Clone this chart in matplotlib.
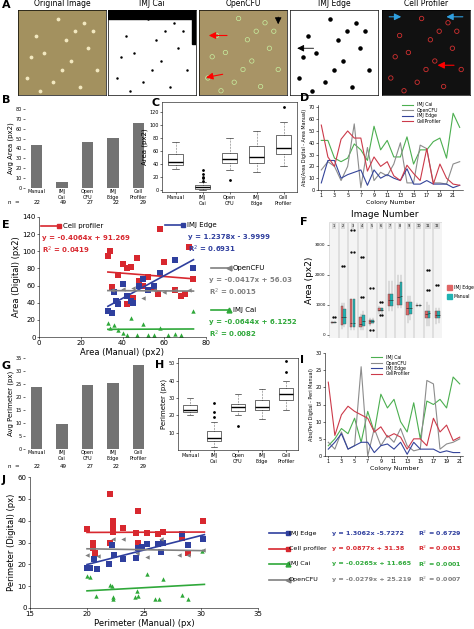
import numpy as np
import matplotlib
matplotlib.use("Agg")
import matplotlib.pyplot as plt

plt.rcParams['font.family'] = ['DejaVu Sans']

W, H = 474, 629

# ------------------ DATA ------------------
methods = ["Manual", "IMJ\nCai", "Open\nCFU", "IMJ\nEdge", "Cell\nProfiler"]
n_counts = [22, 49, 27, 22, 29]
avg_area = [44, 6, 47, 51, 66]
avg_perim = [24, 9.5, 24.5, 25.5, 32.5]

# boxplot stats: (med, q1, q3, lo, hi, fliers)
area_box = [(43, 38, 55, 33, 74, []),
            (4, 2, 8, 0, 12, [14, 18, 20, 24, 30]),
            (48, 41, 57, 30, 80, [16]),
            (50, 42, 68, 27, 90, []),
            (64, 55, 84, 37, 105, [128])]
perim_box = [(23, 22, 26, 20, 30, []),
             (7, 5, 11, 2, 16, [19, 22, 27]),
             (24.5, 22.5, 26.5, 20, 32, [14]),
             (25, 23, 29, 18, 35, []),
             (32, 29, 35.5, 23, 40, [45, 51])]

colony_d = np.arange(1, 23)
d_cai = [42, 42, 27, 24, 27, 39, 34, 25, 54, 34, 42, 28, 28, 45, 22, 34, 34, 41, 44, 27, 65, 53]
d_ocfu = [17, 24, 20, 8, 20, 56, 2, 36, 8, 15, 12, 22, 40, 6, 6, 38, 35, 6, 6, 5, 22, 24]
d_edge = [6, 25, 25, 10, 13, 15, 17, 4, 17, 10, 13, 10, 8, 18, 5, 5, 8, 5, 5, 5, 2, 4]
d_cell = [55, 28, 20, 43, 50, 44, 44, 16, 28, 20, 24, 12, 8, 21, 14, 8, 35, 5, 22, 10, 5, 4]

colony_i = np.arange(1, 22)
i_cai = [3, 5, 8, 6.5, 11, 4, 13, 7, 18, 14, 16.5, 10, 7, 15.5, 5, 16, 15, 16.5, 14, 23, 21]
i_ocfu = [4, 2, 7, 2, 3, 26, 0, 8, 3, 6, 4, 8, 3, 1.5, 2, 22, 21, 2, 3.5, 4, 5]
i_edge = [2, 4, 6.5, 2, 3, 4, 4, 1, 3, 3.5, 2, 4, 0.5, 4, 2, 2, 2, 1, 1.5, 1, 1]
i_cell = [21.5, 6, 12, 14.5, 13, 12, 11, 7, 8.5, 5.5, 6.5, 5.5, 2, 5, 5, 3, 11, 7, 9, 4.5, 5.5]

# E scatter
e_cell_x = [33, 35, 38, 40, 42, 44, 45, 47, 50, 52, 55, 57, 60, 65, 68, 72, 74, 34, 48, 58, 42, 70]
e_cell_y = [95, 58, 72, 85, 80, 82, 45, 92, 60, 70, 58, 50, 88, 55, 48, 105, 68, 100, 65, 126, 38, 50]
e_edge_x = [33, 35, 37, 40, 42, 45, 48, 50, 55, 58, 65, 74, 36, 44, 52, 38]
e_edge_y = [30, 28, 42, 62, 48, 40, 60, 68, 60, 75, 90, 80, 52, 42, 55, 38]
e_ocfu_x = [35, 40, 45, 50, 55, 60, 65, 72]
e_ocfu_y = [55, 56, 57, 45, 55, 53, 55, 55]
e_cai_x = [33, 34, 36, 38, 40, 42, 44, 47, 50, 52, 55, 58, 62, 65, 68, 74]
e_cai_y = [16, 10, 14, 8, 5, 2, 22, 2, 15, 2, 2, 10, 2, 4, 2, 30]

# J scatter
j_cell_x = [20, 20.5, 20.5, 22, 22, 22.3, 22.3, 22.3, 23.2, 24.5, 24.5, 25.3, 26.2, 26.7, 28.3, 28.9, 30.2, 20.7, 24.3]
j_cell_y = [36, 30, 27.5, 30, 52, 40, 37.5, 35, 36.5, 44.5, 30, 34.5, 34, 35, 32, 25, 40, 25, 34.5]
j_edge_x = [20, 20.3, 20.6, 20.9, 21.9, 22.2, 22.4, 23.2, 24.3, 24.5, 25.3, 26.2, 26.5, 26.7, 28.3, 28.9, 30.2, 24.8]
j_edge_y = [18.5, 18.5, 22.5, 18, 20, 29, 24.5, 22.5, 23, 27.5, 29.5, 29.5, 25.5, 30, 34, 29, 31.5, 28]
j_ocfu_x = [20, 21, 22.3, 23.2, 24.4, 25.3, 26.5, 28.1, 28.9, 30.2]
j_ocfu_y = [24.5, 24, 31.5, 31.5, 25, 23.5, 31.5, 24.5, 24.5, 26.5]
j_cai_x = [20, 20.3, 20.8, 22, 22.2, 22.3, 22.3, 24.2, 24.4, 24.5, 25.3, 26, 26.3, 26.7, 28.3, 28.9, 30.1]
j_cai_y = [14.5, 14, 5.5, 10.5, 10, 5, 4, 5, 8, 5.5, 15.5, 4, 4, 13.5, 6, 4, 26]

# F per-image boxes (IMJ Edge, Manual): med, q1, q3, lo, hi
f_images = list(range(1, 13))
f_edge = [(420, 390, 440, 380, 460), (600, 330, 950, 200, 1050), (400, 260, 1200, 150, 1200),
          (380, 280, 600, 150, 700), (450, 380, 500, 300, 550), (830, 800, 900, 700, 950),
          (1150, 950, 1350, 800, 1800), (1250, 1000, 1650, 900, 2000), (900, 650, 1100, 400, 1300),
          (980, 950, 1000, 930, 1050), (700, 550, 800, 300, 1100), (650, 550, 800, 350, 900)]
f_man = [(420, 400, 440, 390, 460), (600, 350, 850, 250, 1050), (400, 260, 1200, 150, 1200),
         (450, 300, 650, 150, 800), (450, 400, 500, 350, 550), (830, 790, 880, 700, 900),
         (1150, 950, 1350, 800, 1800), (1300, 1000, 1750, 900, 2000), (900, 700, 1100, 500, 1300),
         (980, 960, 1000, 940, 1020), (720, 550, 800, 300, 1000), (650, 550, 800, 400, 900)]
f_fliers = {1: [600], 2: [2300], 3: [2750, 3500], 4: [1250, 2600], 5: [150, 1550], 6: [1100, 650],
            11: [1500, 2150], 12: [1650]}

# A thumbnails: spot positions (fractions of tile)
spots_x = [0.2, 0.75, 0.65, 0.15, 0.5, 0.8, 0.4, 0.3, 0.9, 0.55, 0.1, 0.7, 0.45, 0.85, 0.25, 0.6]
spots_y = [0.7, 0.85, 0.75, 0.45, 0.3, 0.55, 0.15, 0.5, 0.3, 0.65, 0.2, 0.1, 0.9, 0.75, 0.05, 0.4]
# -------------------------------------------

fig = plt.figure(figsize=(W / 100, H / 100), dpi=100)


def ax_px(x0, y0, x1, y1):
    return fig.add_axes([x0 / W, 1 - y1 / H, (x1 - x0) / W, (y1 - y0) / H])


def letter(x, y, s):
    fig.text(x / W, 1 - y / H, s, fontsize=8, fontweight="bold", va="center")


def style(ax, fs=3.5):
    ax.tick_params(labelsize=fs, length=1.5, width=0.4, pad=1)
    for s in ax.spines.values():
        s.set_linewidth(0.4)


def boxes(ax, data):
    stats = [dict(med=m, q1=a, q3=b, whislo=lo, whishi=hi, fliers=fl) for m, a, b, lo, hi, fl in data]
    ax.bxp(stats, positions=range(1, 6), widths=0.55, patch_artist=True,
           boxprops=dict(facecolor="white", linewidth=0.4), medianprops=dict(color="black", linewidth=1),
           whiskerprops=dict(linewidth=0.4, linestyle=":"), capprops=dict(linewidth=0.4),
           flierprops=dict(marker="o", markersize=1, markerfacecolor="black"))
    ax.set_xticks(range(1, 6))
    ax.set_xticklabels(methods, fontsize=3.5)


def scatter_fit(ax, x, y, color, marker, ms, x0, x1):
    ax.scatter(x, y, marker=marker, s=ms, color=color, linewidth=0)
    c = np.polyfit(x, y, 1)
    xs = np.array([x0, x1])
    ax.plot(xs, np.polyval(c, xs), color=color, lw=1.2)


def leg_line(x0, x1, y, col, mk):
    fig.lines.append(plt.Line2D([x0 / W, x1 / W], [1 - y / H] * 2, color=col, lw=1.2, marker=mk,
                                markevery=[1], markersize=3.5, transform=fig.transFigure))


# ---- A ----
letter(2, 5, "A")
tiles = [(18, "Original Image"), (108, "IMJ Cai"), (199, "OpenCFU"), (290, "IMJ Edge"), (382, "Cell Profiler")]
for k, (x0, name) in enumerate(tiles):
    ax = ax_px(x0, 10, x0 + 88, 95)
    ax.set_xlim(0, 1)
    ax.set_ylim(0, 1)
    ax.set_xticks([])
    ax.set_yticks([])
    fig.text((x0 + 44) / W, 1 - 4 / H, name, fontsize=5.5, ha="center", va="center")
    if k == 0:
        ax.set_facecolor("#a3915f")
        ax.scatter(spots_x, spots_y, s=3, color="#f2e8c0")
    elif k == 1:
        ax.set_facecolor("white")
        ax.axhspan(0.9, 1, color="black")
        ax.axvspan(0.95, 1, ymin=0.6, color="black")
        ax.scatter(spots_x, spots_y, s=0.6, color="black")
    elif k == 2:
        ax.set_facecolor("#a89466")
        ax.scatter(spots_x, spots_y, s=10, facecolor="none", edgecolor="#c8f0a0", linewidth=0.5)
        ax.annotate("", xy=(0.08, 0.7), xytext=(0.35, 0.7), arrowprops=dict(arrowstyle="-|>", color="red", lw=0.8))
        ax.annotate("", xy=(0.05, 0.2), xytext=(0.3, 0.25), arrowprops=dict(arrowstyle="-|>", color="red", lw=0.8))
        ax.annotate("", xy=(0.9, 0.8), xytext=(0.9, 0.95), arrowprops=dict(arrowstyle="-|>", color="black", lw=0.6))
    elif k == 3:
        ax.set_facecolor("white")
        ax.scatter(spots_x, spots_y, s=5, color="black")
        ax.annotate("", xy=(0.05, 0.55), xytext=(0.3, 0.55), arrowprops=dict(arrowstyle="-|>", color="black", lw=0.6))
    else:
        ax.set_facecolor("#111111")
        ax.scatter(spots_x, spots_y, s=10, facecolor="none", edgecolor="#d03030", linewidth=0.6)
        ax.annotate("", xy=(0.7, 0.92), xytext=(0.95, 0.92), arrowprops=dict(arrowstyle="-|>", color="#30a0e0", lw=0.8))
        ax.annotate("", xy=(0.25, 0.92), xytext=(0.05, 0.92), arrowprops=dict(arrowstyle="-|>", color="#30a0e0", lw=0.8))
        ax.annotate("", xy=(0.6, 0.35), xytext=(0.85, 0.35), arrowprops=dict(arrowstyle="-|>", color="red", lw=0.8))
    for s in ax.spines.values():
        s.set_linewidth(0.5)

# ---- B ----
letter(2, 100, "B")
ax = ax_px(25, 109, 150, 188)
ax.bar(range(5), avg_area, width=0.45, color="#737373")
ax.set_ylim(0, 80)
ax.set_yticks(range(0, 81, 10))
ax.set_xticks(range(5))
ax.set_xticklabels(methods, fontsize=3.5)
ax.set_ylabel("Avg Area (px2)", fontsize=5, labelpad=1)
style(ax)
for s in ax.spines.values():
    s.set_visible(False)
ax.tick_params(axis="x", length=0)
fig.text(8 / W, 1 - 204 / H, "n  =", fontsize=4)
for k, n in enumerate(n_counts):
    fig.text((37 + k * 26.5) / W, 1 - 204 / H, str(n), fontsize=4, ha="center")

# ---- C ----
letter(152, 103, "C")
ax = ax_px(162, 102, 297, 192)
boxes(ax, area_box)
ax.set_ylim(-3, 135)
ax.set_yticks(range(0, 121, 20))
ax.set_ylabel("Area (px2)", fontsize=5, labelpad=1)
style(ax)

# ---- D ----
letter(300, 98, "D")
ax = ax_px(318, 105, 463, 190)
ax.plot(colony_d, d_cai, color="#4caf50", lw=0.8, label="IMJ Cai")
ax.plot(colony_d, d_ocfu, color="#8c8c8c", lw=0.8, label="OpenCFU")
ax.plot(colony_d, d_edge, color="#34449a", lw=0.8, label="IMJ Edge")
ax.plot(colony_d, d_cell, color="#cc3a4a", lw=0.8, label="CellProfiler")
ax.set_ylim(0, 72)
ax.set_xlim(0.5, 22.5)
ax.set_xticks(range(1, 22, 2))
ax.set_yticks(range(0, 71, 10))
ax.set_xlabel("Colony Number", fontsize=4.5, labelpad=1)
ax.set_ylabel("Abs(Area Digital - Area Manual)", fontsize=3.5, labelpad=1)
ax.legend(fontsize=3.3, frameon=False, loc="upper left", bbox_to_anchor=(0.55, 1.08), handlelength=2.5,
          labelspacing=0.1)
style(ax)
for s in ["top", "right"]:
    ax.spines[s].set_visible(False)

# ---- E ----
letter(2, 225, "E")
ax = ax_px(39, 217, 206, 337)
scatter_fit(ax, e_cell_x, e_cell_y, "#d8282f", "s", 14, 33, 74)
scatter_fit(ax, e_edge_x, e_edge_y, "#2f3f9e", "s", 14, 33, 74)
scatter_fit(ax, e_ocfu_x, e_ocfu_y, "#808080", "<", 10, 33, 74)
scatter_fit(ax, e_cai_x, e_cai_y, "#2fa83a", "^", 10, 33, 74)
ax.set_xlim(0, 80)
ax.set_ylim(0, 140)
ax.set_xticks(range(0, 81, 20))
ax.set_yticks(range(0, 141, 20))
ax.set_xlabel("Area (Manual) (px2)", fontsize=6, labelpad=1)
ax.set_ylabel("Area (Digital) (px2)", fontsize=6, labelpad=1)
style(ax, 5)
for s in ["top", "right"]:
    ax.spines[s].set_visible(False)

# name x, row y, equation x, name, eq, r2, colour, marker
leg_e = [(63, 226, 42, "Cell profiler", "y = -0.4064x + 91.269", "R$^2$ = 0.0419", "#d8282f", "s"),
         (187, 225, 188, "IMJ Edge", "y = 1.2378x - 3.9999", "R$^2$ = 0.6931", "#2f3f9e", "s"),
         (233, 268, 209, "OpenCFU", "y = -0.0417x + 56.03", "R$^2$ = 0.0015", "#808080", "<"),
         (233, 310, 209, "IMJ Cai", "y = -0.0644x + 6.1252", "R$^2$ = 0.0082", "#2fa83a", "^")]
for x, y, xe, name, eq, r2, col, mk in leg_e:
    leg_line(x - 22, x - 4, y, col, mk)
    fig.text(x / W, 1 - y / H, name, fontsize=5, va="center")
    fig.text(xe / W, 1 - (y + 12) / H, eq, fontsize=5, color=col, fontweight="bold", va="center")
    fig.text(xe / W, 1 - (y + 24) / H, r2, fontsize=5, color=col, fontweight="bold", va="center")

# ---- F ----
letter(300, 222, "F")
fig.text(385 / W, 1 - 215 / H, "Image Number", fontsize=6.5, ha="center", va="center")
ax = ax_px(329, 222, 442, 338)
for k in f_images:
    ax.axvspan(k - 0.45, k + 0.45, color="#f4f4f4", ec="#cccccc", lw=0.4, zorder=0)
    ax.text(k, 3620, str(k), fontsize=2.5, ha="center", va="center",
            bbox=dict(boxstyle="square,pad=0.2", fc="#d9d9d9", ec="none"))
    for y in f_fliers.get(k, []):
        ax.scatter([k - 0.12, k + 0.12], [y, y], s=0.4, color="black")
for arr, off, col in [(f_edge, -0.14, "#e06666"), (f_man, 0.14, "#1fb3b3")]:
    st = [dict(med=m, q1=a, q3=b, whislo=lo, whishi=hi, fliers=[]) for m, a, b, lo, hi in arr]
    ax.bxp(st, positions=[p + off for p in f_images], widths=0.26, patch_artist=True,
           boxprops=dict(facecolor=col, linewidth=0.3, edgecolor="#555555"),
           medianprops=dict(color="#333333", linewidth=0.5),
           whiskerprops=dict(linewidth=0.3, color="#777777"), capprops=dict(linewidth=0), showfliers=False)
ax.set_xlim(0.5, 12.5)
ax.set_ylim(-100, 3750)
ax.set_xticks([])
ax.set_yticks([0, 1000, 2000, 3000])
ax.set_ylabel("Area (px2)", fontsize=6.5, labelpad=1)
style(ax, 3)
for s in ax.spines.values():
    s.set_visible(False)
fig.patches.append(plt.Rectangle((447 / W, 1 - 290 / H), 5 / W, 5 / H, color="#e06666", transform=fig.transFigure))
fig.patches.append(plt.Rectangle((447 / W, 1 - 299 / H), 5 / W, 5 / H, color="#1fb3b3", transform=fig.transFigure))
fig.text(454 / W, 1 - 287.5 / H, "IMJ Edge", fontsize=3.3, va="center")
fig.text(454 / W, 1 - 296.5 / H, "Manual", fontsize=3.3, va="center")

# ---- G ----
letter(2, 366, "G")
ax = ax_px(25, 358, 150, 449)
ax.bar(range(5), avg_perim, width=0.45, color="#737373")
ax.set_ylim(0, 35)
ax.set_yticks(range(0, 36, 5))
ax.set_xticks(range(5))
ax.set_xticklabels(methods, fontsize=3.5)
ax.set_ylabel("Avg Perimeter (px)", fontsize=5, labelpad=1)
style(ax)
for s in ax.spines.values():
    s.set_visible(False)
ax.tick_params(axis="x", length=0)
fig.text(8 / W, 1 - 468 / H, "n  =", fontsize=4)
for k, n in enumerate(n_counts):
    fig.text((37 + k * 26.5) / W, 1 - 468 / H, str(n), fontsize=4, ha="center")

# ---- H ----
letter(155, 365, "H")
ax = ax_px(178, 358, 298, 450)
boxes(ax, perim_box)
ax.set_ylim(0, 53)
ax.set_yticks(range(10, 51, 10))
ax.set_ylabel("Perimeter (px)", fontsize=5, labelpad=1)
style(ax)

# ---- I ----
letter(300, 360, "I")
ax = ax_px(325, 353, 463, 456)
ax.plot(colony_i, i_cai, color="#4caf50", lw=0.8, label="IMJ Cai")
ax.plot(colony_i, i_ocfu, color="#8c8c8c", lw=0.8, label="OpenCFU")
ax.plot(colony_i, i_edge, color="#34449a", lw=0.8, label="IMJ Edge")
ax.plot(colony_i, i_cell, color="#cc3a4a", lw=0.8, label="CellProfiler")
ax.set_ylim(0, 30)
ax.set_xlim(0.5, 21.5)
ax.set_xticks(range(1, 22, 2))
ax.set_yticks(range(0, 31, 5))
ax.set_xlabel("Colony Number", fontsize=4.5, labelpad=1)
ax.set_ylabel("Abs(Peri Digital - Peri Manual)", fontsize=3.5, labelpad=1)
ax.legend(fontsize=3.3, frameon=False, loc="upper left", bbox_to_anchor=(0.3, 1.02), handlelength=2.5,
          labelspacing=0.1)
style(ax)
for s in ["top", "right"]:
    ax.spines[s].set_visible(False)

# ---- J ----
letter(2, 480, "J")
ax = ax_px(30, 477, 258, 608)
scatter_fit(ax, j_cell_x, j_cell_y, "#d8282f", "s", 14, 20, 30.3)
scatter_fit(ax, j_edge_x, j_edge_y, "#2f3f9e", "s", 14, 20, 30.3)
scatter_fit(ax, j_ocfu_x, j_ocfu_y, "#808080", "<", 10, 20, 30.3)
scatter_fit(ax, j_cai_x, j_cai_y, "#2fa83a", "^", 10, 20, 30.3)
ax.set_xlim(15, 35)
ax.set_ylim(0, 60)
ax.set_xticks(range(15, 36, 5))
ax.set_yticks(range(0, 61, 10))
ax.set_xlabel("Perimeter (Manual) (px)", fontsize=6, labelpad=1)
ax.set_ylabel("Perimeter (Digital) (px)", fontsize=6, labelpad=1)
style(ax, 5)
for s in ["top", "right"]:
    ax.spines[s].set_visible(False)

leg_j = [("IMJ Edge", "y = 1.3062x -5.7272", "R$^2$ = 0.6729", "#2f3f9e", "s"),
         ("Cell profiler", "y = 0.0877x + 31.38", "R$^2$ = 0.0013", "#d8282f", "s"),
         ("IMJ Cai", "y = -0.0265x + 11.665", "R$^2$ = 0.0001", "#2fa83a", "^"),
         ("OpenCFU", "y = -0.0279x + 25.219", "R$^2$ = 0.0007", "#808080", "<")]
for k, (name, eq, r2, col, mk) in enumerate(leg_j):
    y = 533 + k * 15.5
    leg_line(269, 288, y, col, mk)
    fig.text(289 / W, 1 - y / H, name, fontsize=4.6, va="center")
    fig.text(332 / W, 1 - y / H, eq, fontsize=4.6, color=col, fontweight="bold", va="center")
    fig.text(418 / W, 1 - y / H, r2, fontsize=4.6, color=col, fontweight="bold", va="center")

fig.savefig("out.png", dpi=100)
